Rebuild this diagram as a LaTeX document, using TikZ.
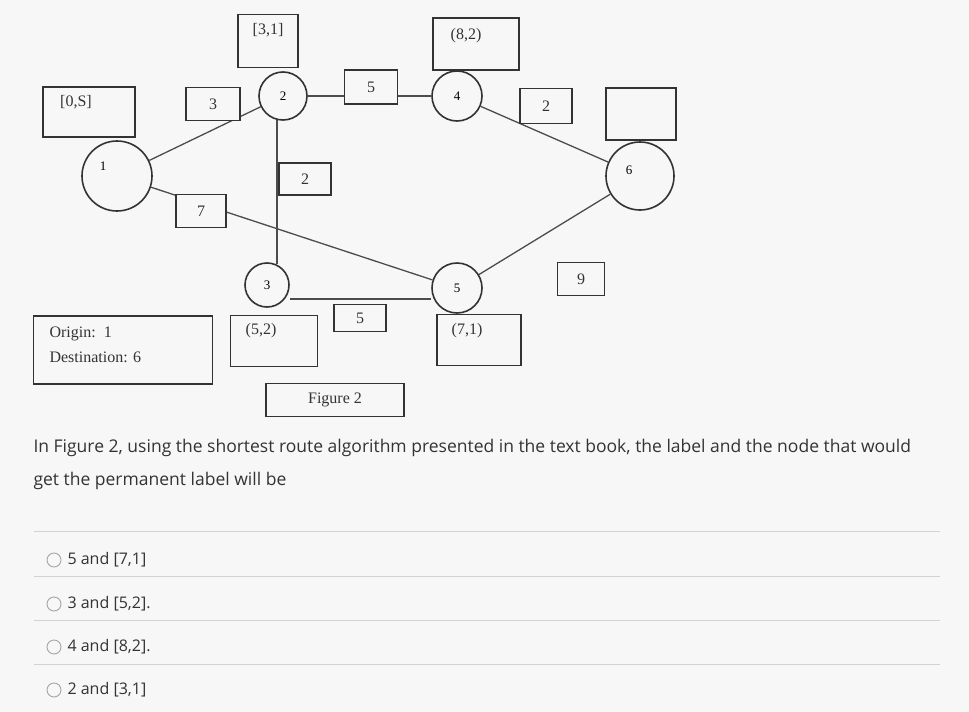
\documentclass[tikz,border=0pt]{standalone}
\usepackage{fontspec}
\setmainfont{Liberation Serif}
\newfontfamily\qfont{Open Sans}
\begin{document}
\begin{tikzpicture}[x=1pt,y=-1pt,
  nd/.style={draw=black!80,circle,line width=1.6pt,inner sep=0pt,font=\fontsize{13}{14}\selectfont},
  bx/.style={draw=black!80,line width=1.5pt},
  lbl/.style={font=\fontsize{16}{18}\selectfont,text=black!80},
  ed/.style={draw=black!70,line width=1.3pt}]
\fill[gray!6] (0,0) rectangle (969,712);
\useasboundingbox (0,0) rectangle (969,712);
% nodes
\node[nd,minimum size=70pt] (n1) at (117,176) {};
\node[font=\fontsize{13}{14}\selectfont] at (103,166) {1};
\node[nd,minimum size=48pt] (n2) at (283,96) {2};
\node[nd,minimum size=50pt] (n4) at (457,96) {4};
\node[nd,minimum size=68pt] (n6) at (640,176) {};
\node[font=\fontsize{13}{14}\selectfont] at (629,170) {6};
\node[nd,minimum size=44pt] (n3) at (267,285) {3};
\node[nd,minimum size=50pt] (n5) at (457,288) {5};
% edges
\coordinate (c2b) at (277,120);
\coordinate (c3t) at (277,264);
\draw[ed] (n1) -- (n2);
\draw[ed] (n2) -- (n4);
\draw[ed] (n4) -- (n6);
\draw[ed] (c2b) -- (c3t);
\draw[ed] (n1) -- (n5);
\draw[ed] (n3.east |- 0,299) -- (n5.west |- 0,299);
\draw[ed] (n5) -- (n6);
% boxes
\node[bx,fill=gray!6,minimum width=92pt,minimum height=50pt] (b0) at (89,112) {};
\node[lbl] at (76,102) {[0,S]};
\node[bx,fill=gray!6,minimum width=60pt,minimum height=53pt] (b31) at (268,41) {};
\node[lbl] at (268,30) {[3,1]};
\node[bx,fill=gray!6,minimum width=86pt,minimum height=52pt] (b82) at (476,44) {};
\node[lbl] at (466,36) {(8,2)};
\node[bx,fill=gray!6,minimum width=70pt,minimum height=52pt] (b6) at (641,114) {};
\node[bx,fill=gray!6,minimum width=54pt,minimum height=33pt,lbl] (w3) at (213,104) {3};
\node[bx,fill=gray!6,minimum width=53pt,minimum height=34pt,lbl] (w5a) at (371,87) {5};
\node[bx,fill=gray!6,minimum width=52pt,minimum height=35pt,lbl] (w2a) at (546,106) {2};
\node[bx,fill=gray!6,minimum width=52pt,minimum height=32pt,lbl] (w2b) at (305,179) {2};
\node[bx,fill=gray!6,minimum width=50pt,minimum height=33pt,lbl] (w7) at (201,211) {7};
\node[bx,fill=gray!6,minimum width=47pt,minimum height=33pt,lbl] (w9) at (581,279) {9};
\node[bx,fill=gray!6,minimum width=52pt,minimum height=27pt,lbl] (w5b) at (360,318) {5};
\node[bx,fill=gray!6,minimum width=87pt,minimum height=51pt] (b52) at (274,341) {};
\node[lbl] at (261,331) {(5,2)};
\node[bx,fill=gray!6,minimum width=84pt,minimum height=51pt] (b71) at (479,340) {};
\node[lbl] at (467,331) {(7,1)};
\node[bx,fill=gray!6,minimum width=179pt,minimum height=68pt] (orig) at (123,350) {};
\node[lbl,anchor=west] at (46,334) {Origin:\ \ 1};
\node[lbl,anchor=west] at (46,357) {Destination: 6};
\node[bx,fill=gray!6,minimum width=138pt,minimum height=33pt,lbl] (fig) at (335,400) {Figure 2};
% question
\node[anchor=west,font=\qfont\fontsize{17.5}{19}\selectfont,text=black!80] (q1) at (30,448) {In Figure 2, using the shortest route algorithm presented in the text book, the label and the node that would};
\node[anchor=west,font=\qfont\fontsize{17.5}{19}\selectfont,text=black!80] (q2) at (30,481) {get the permanent label will be};
\foreach \y in {531,576,620,664} \draw[gray!35] (34,\y) -- (940,\y);
\foreach \y/\t in {560/5 and [7{,}1],604/3 and [5{,}2].,647/4 and [8{,}2].,690/2 and [3{,}1]} {
  \draw[gray!70,line width=0.9pt] (54,\y) circle (7);
  \node[anchor=west,font=\qfont\fontsize{16}{18}\selectfont,text=black!80] at (64,\y) {\t};
}
\end{tikzpicture}
\end{document}
